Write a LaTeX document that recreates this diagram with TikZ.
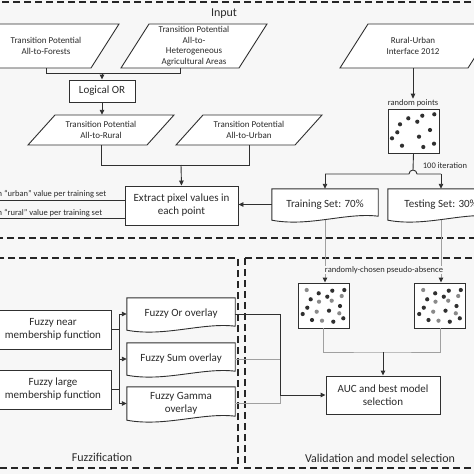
\documentclass[tikz,border=0pt]{standalone}
\usepackage{fontspec}
\setmainfont{Carlito}
\usetikzlibrary{calc,arrows.meta}
\pgfdeclarelayer{back}
\pgfdeclarelayer{shapes}
\pgfsetlayers{back,shapes,main}
\definecolor{bgc}{HTML}{F7F7F7}
\definecolor{ln}{HTML}{303030}
\definecolor{gl}{HTML}{A0A0A0}
\definecolor{tx}{HTML}{2A2A2A}
\definecolor{gdot}{HTML}{8A8A8A}
\newcommand\docout[1]{%
  \begin{pgfonlayer}{shapes}
  \draw[shp] (#1.south west) -- (#1.north west) -- (#1.north east) -- ([yshift=4pt]#1.south east)
    .. controls ($(#1.south west)!0.7!(#1.south east)+(0,-8)$) and ($(#1.south west)!0.35!(#1.south east)+(0,7)$) .. (#1.south west) -- cycle;
  \end{pgfonlayer}}
\begin{document}
\begin{tikzpicture}[x=1pt,y=-1pt,
  shp/.style={draw=ln, line width=0.9pt, fill=white},
  lbl/.style={inner sep=0pt, text=tx, align=center, font=\fontsize{9}{11}\selectfont},
  bigl/.style={inner sep=0pt, text=tx, align=center, font=\fontsize{11}{13}\selectfont},
  boxn/.style={bigl, draw=ln, line width=0.9pt, fill=white},
  dotbox/.style={draw=ln, line width=0.9pt, fill=white, inner sep=0pt, minimum width=51pt, minimum height=45pt},
  small/.style={inner sep=0.5pt, text=tx, font=\fontsize{8.5}{10}\selectfont},
  title/.style={inner sep=0pt, text=tx, font=\fontsize{12}{14}\selectfont},
  con/.style={draw=ln, line width=0.9pt},
  arr/.style={con, -{Triangle[length=5pt,width=4.5pt]}},
  gcon/.style={draw=gl, line width=0.9pt},
  garr/.style={gcon, -{Triangle[length=5pt,width=4.5pt,color=ln]}},
  region/.style={draw=black!85, line width=1.6pt, dash pattern=on 7pt off 4pt},
  bd/.style={fill=ln},
  gd/.style={fill=gdot}]
\useasboundingbox (0,0) rectangle (474,474);
\begin{pgfonlayer}{back}
\fill[bgc] (0,0) rectangle (474,474);
\end{pgfonlayer}
\clip (0,0) rectangle (474,474);

% regions
\begin{pgfonlayer}{back}
\draw[region] (-10,2) rectangle (484,238);
\draw[region] (-10,258) rectangle (238,468);
\draw[region] (245,258) rectangle (484,468);
\end{pgfonlayer}
\node[title] (tin) at (224,14) {Input};
\node[title] (tfz) at (102,457) {Fuzzification};
\node[title] (tval) at (380,458) {Validation and model selection};

% parallelograms
\begin{pgfonlayer}{shapes}
\draw[shp] (-1,24) -- (119,24) -- (91,68) -- (-29,68) -- cycle;
\draw[shp] (149,24) -- (267,24) -- (239,68) -- (121,68) -- cycle;
\draw[shp] (368,24) -- (496,24) -- (468,68) -- (340,68) -- cycle;
\draw[shp] (55,115) -- (174,115) -- (147,145) -- (28,145) -- cycle;
\draw[shp] (203,115) -- (322,115) -- (295,145) -- (176,145) -- cycle;
\end{pgfonlayer}
\node[lbl, minimum height=44pt] (p1) at (46,46) {Transition Potential\\All-to-Forests};
\node[lbl, minimum height=44pt, font=\fontsize{9}{10.7}\selectfont] (p2) at (194,46) {Transition Potential\\All-to-\\Heterogeneous\\Agricultural Areas};
\node[lbl, minimum height=44pt] (rui) at (413,46) {Rural-Urban\\Interface 2012};
\node[lbl, minimum height=30pt] (p3) at (101,130) {Transition Potential\\All-to-Rural};
\node[lbl, minimum height=30pt] (p4) at (249,130) {Transition Potential\\All-to-Urban};

% boxes
\node[boxn, minimum width=66pt, minimum height=22pt] (lor) at (102,91) {Logical OR};
\node[boxn, minimum width=113pt, minimum height=39pt] (ext) at (181.5,205.5) {Extract pixel values in\\each point};
\node[small] (rpl) at (413,103) {random points};
\node[dotbox, minimum height=44pt] (rp) at (413.5,131) {};
\node[dotbox] (lbox) at (323.5,305.5) {};
\node[dotbox] (rbox) at (440,305.5) {};
\node[boxn, minimum width=114pt, minimum height=38pt] (auc) at (383,395) {AUC and best model\\selection};
\node[boxn, minimum width=116pt, minimum height=39pt] (near) at (53,329.5) {Fuzzy near\\membership function};
\node[boxn, minimum width=116pt, minimum height=39pt] (large) at (53,389.5) {Fuzzy large\\membership function};

% document shapes
\node[bigl, minimum width=106pt, minimum height=31pt] (train) at (325,204.5) {Training Set: 70\%};
\node[bigl, minimum width=106pt, minimum height=31pt] (test) at (441,204.5) {Testing Set: 30\%};
\node[bigl, minimum width=108pt, minimum height=32pt] (for) at (181,314) {Fuzzy Or overlay};
\node[bigl, minimum width=108pt, minimum height=32pt] (fsum) at (181,359) {Fuzzy Sum overlay};
\node[bigl, minimum width=108pt, minimum height=33pt, font=\fontsize{11}{13.5}\selectfont] (fgam) at (181,403.5) {Fuzzy Gamma\\overlay};
\docout{train}\docout{test}\docout{for}\docout{fsum}\docout{fgam}

% dots in random points
\foreach \x/\y in {408.3/118.3,422.3/115.7,434.3/114.3,400/124.3,417.3/121.7,430/130,397.3/132.3,419/136.7,392/138.3,402/145.7,423.3/147,434/143.7}
  \fill[bd] (\x,\y) circle[radius=2.1pt];
% dots in validation boxes
\foreach \dx in {0,116.5}{
\foreach \x/\y in {318.7/293.3,332.3/290.7,344.3/290,310.7/299.3,327.3/296.7,307.3/307.7,340/306,302.7/314,329/310.7,312/320,333.3/321.7,343.3/318.3}
  \fill[bd] (\x+\dx,\y) circle[radius=2.1pt];
\foreach \x/\y in {306.7/290,341.7/296,319/301.7,331.7/300.7,316.7/311.7,339.3/313.3,322/320.7}
  \fill[gd] (\x+\dx,\y) circle[radius=2.1pt];
}

% texts
\node[small] (hit) at (445,166) {100 iteration};
\node[small, fill=bgc] (rcp) at (384,270) {randomly-chosen pseudo-absence};
\node[small, anchor=west] (urb) at (-3,194) {n “urban” value per training set};
\node[small, anchor=west] (rur) at (-3,213) {n “rural” value per training set};

% connectors top
\coordinate (j1) at (102,73);
\draw[con] (p1.south) |- (j1);
\draw[con] ([xshift=-14pt]p2.south) |- (j1);
\draw[arr] (j1) -- (lor.north);
\draw[arr] (lor.south) -- (lor.south |- p3.north);
\coordinate (j2) at (181,165);
\draw[con] (p3.south) |- (j2);
\draw[con] (p4.south) |- (j2);
\draw[arr] (j2) -- (ext.north);
\draw[arr] (rui.south) -- (rpl.north);
\coordinate (hopc) at (413,174);
\draw[con] (rp.south) -- ([yshift=4pt]hopc);
\draw[con] (train.north |- hopc) -- ([xshift=-4pt]hopc) arc[start angle=180, end angle=0, radius=4pt] -- (test.north |- hopc);
\draw[arr] (train.north |- hopc) -- (train.north);
\draw[arr] (test.north |- hopc) -- (test.north);
\draw[arr] (train.west) -- (train.west -| ext.east);
\coordinate (uL) at (-5,200);
\coordinate (rL) at (-5,218);
\draw[con] (uL) -- (uL -| ext.west);
\draw[con] (rL) -- (rL -| ext.west);

% validation connectors
\begin{pgfonlayer}{back}
\draw[garr] (train.south) -- (train.south |- lbox.north);
\draw[garr] (test.south) -- (test.south |- rbox.north);
\end{pgfonlayer}
\coordinate (j3) at (383,352);
\draw[gcon] (lbox.south) |- (j3) -| (rbox.south);
\draw[arr] (j3) -- (auc.north);

% fuzzification connectors
\coordinate (k2) at (119,0);
\draw[con] (near.east) -- (near.east -| k2);
\draw[con] (large.east) -- (large.east -| k2);
\draw[con] (for.west -| k2) -- (fgam.west -| k2);
\draw[arr] (for.west -| k2) -- (for.west);
\draw[arr] (fsum.west -| k2) -- (fsum.west);
\draw[arr] (fgam.west -| k2) -- (fgam.west);
\coordinate (k1) at (280,0);
\draw[gcon] (fsum.east) -- (fsum.east -| k1);
\draw[gcon] (fgam.east) -- (fgam.east -| k1) -- (auc.west -| k1);
\draw[con] (for.east) -- (for.east -| k1) -- (auc.west -| k1);
\draw[arr] (auc.west -| k1) -- (auc.west);
\end{tikzpicture}
\end{document}
